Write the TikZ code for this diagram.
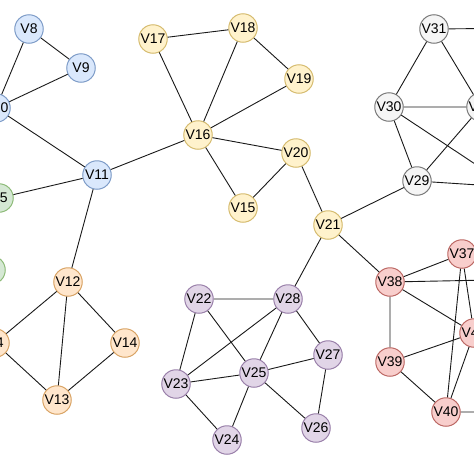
\documentclass[tikz,border=0pt]{standalone}
\usepackage{fontspec}
\setmainfont{Liberation Sans}
\begin{document}
\begin{tikzpicture}[x=1pt,y=-1pt,
  vtx/.style={circle,draw,line width=1pt,minimum size=28.5pt,inner sep=0pt,font=\fontsize{14}{16}\selectfont},
  blue/.style={vtx,fill=blueF,draw=blueD},
  yel/.style={vtx,fill=yelF,draw=yelD},
  ora/.style={vtx,fill=oraF,draw=oraD},
  grn/.style={vtx,fill=grnF,draw=grnD},
  pur/.style={vtx,fill=purF,draw=purD},
  red/.style={vtx,fill=redF,draw=redD},
  gry/.style={vtx,fill=gryF,draw=gryD},
  edge/.style={draw=black!90,line width=0.9pt}]
\definecolor{blueF}{HTML}{DAE8FC}\definecolor{blueD}{HTML}{7E9CC8}
\definecolor{yelF}{HTML}{FFF2CC}\definecolor{yelD}{HTML}{D6BC70}
\definecolor{oraF}{HTML}{FFE6CC}\definecolor{oraD}{HTML}{D9A465}
\definecolor{grnF}{HTML}{D5E8D4}\definecolor{grnD}{HTML}{8DBB78}
\definecolor{purF}{HTML}{E1D5E7}\definecolor{purD}{HTML}{9A80AA}
\definecolor{redF}{HTML}{F8CECC}\definecolor{redD}{HTML}{BC6864}
\definecolor{gryF}{HTML}{F5F5F5}\definecolor{gryD}{HTML}{7A7A7A}
\useasboundingbox (0,0) rectangle (474,474);
\clip (0,0) rectangle (474,474);
\fill[white] (0,0) rectangle (474,474);
% nodes
\node[blue] (v8) at (29,29) {V8};
\node[blue] (v9) at (81,68) {V9};
\node[blue] (v10) at (-4,108) {V10};
\node[blue] (v11) at (97,175) {V11};
\node[grn] (v5) at (-1,198) {V5};
\node[grn] (v6) at (-9,270) {V6};
\node[ora] (v12) at (68,282) {V12};
\node[ora] (v4) at (-5,343) {V4};
\node[ora] (v14) at (125,343) {V14};
\node[ora] (v13) at (57,400) {V13};
\node[yel] (v17) at (153,39) {V17};
\node[yel] (v18) at (243,28) {V18};
\node[yel] (v19) at (299,79) {V19};
\node[yel] (v16) at (198,135) {V16};
\node[yel] (v20) at (296,153) {V20};
\node[yel] (v15) at (243,208) {V15};
\node[yel] (v21) at (328,225) {V21};
\node[gry] (v31) at (434,29) {V31};
\node[gry] (v30) at (389,107) {V30};
\node[gry] (v29) at (417,181) {V29};
\node[gry] (v32) at (481,107) {V32};
\node[pur] (v22) at (199,299) {V22};
\node[pur] (v28) at (288,299) {V28};
\node[pur] (v27) at (328,355) {V27};
\node[pur] (v25) at (254,373) {V25};
\node[pur] (v23) at (176,384) {V23};
\node[pur] (v26) at (316,428) {V26};
\node[pur] (v24) at (227,440) {V24};
\node[red] (v37) at (462,254) {V37};
\node[red] (v38) at (390,282) {V38};
\node[red] (v41) at (474,333) {V41};
\node[red] (v39) at (390,362) {V39};
\node[red] (v40) at (446,412) {V40};
\coordinate (o31) at (540,28);
\coordinate (o30) at (540,207);
\coordinate (o29) at (540,189);
\coordinate (o38) at (540,279);
\coordinate (o40) at (540,412);
% edges
\path[edge]
 (v8)--(v9) (v8)--(v10) (v9)--(v10) (v10)--(v11) (v11)--(v5) (v5)--(v6)
 (v11)--(v12) (v11)--(v16)
 (v12)--(v4) (v12)--(v13) (v12)--(v14) (v4)--(v13) (v13)--(v14)
 (v16)--(v17) (v16)--(v18) (v16)--(v19) (v16)--(v20) (v16)--(v15)
 (v17)--(v18) (v18)--(v19) (v15)--(v20) (v20)--(v21)
 (v21)--(v29) (v21)--(v28) (v21)--(v38)
 (v31)--(v30) (v31)--(v32) (v31)--(o31) (v30)--(v32) (v30)--(v29) (v30)--(o30)
 (v29)--(v32) (v29)--(o29)
 (v22)--(v28) (v22)--(v23) (v22)--(v25) (v28)--(v23) (v28)--(v25) (v28)--(v27)
 (v27)--(v25) (v27)--(v26) (v25)--(v23) (v25)--(v24) (v25)--(v26) (v23)--(v24)
 (v38)--(v37) (v38)--(o38) (v38)--(v41) (v38)--(v39) (v39)--(v41) (v39)--(v40)
 (v37)--(v40) (v37)--(v41) (v41)--(v40) (v40)--(o40);
\end{tikzpicture}
\end{document}
